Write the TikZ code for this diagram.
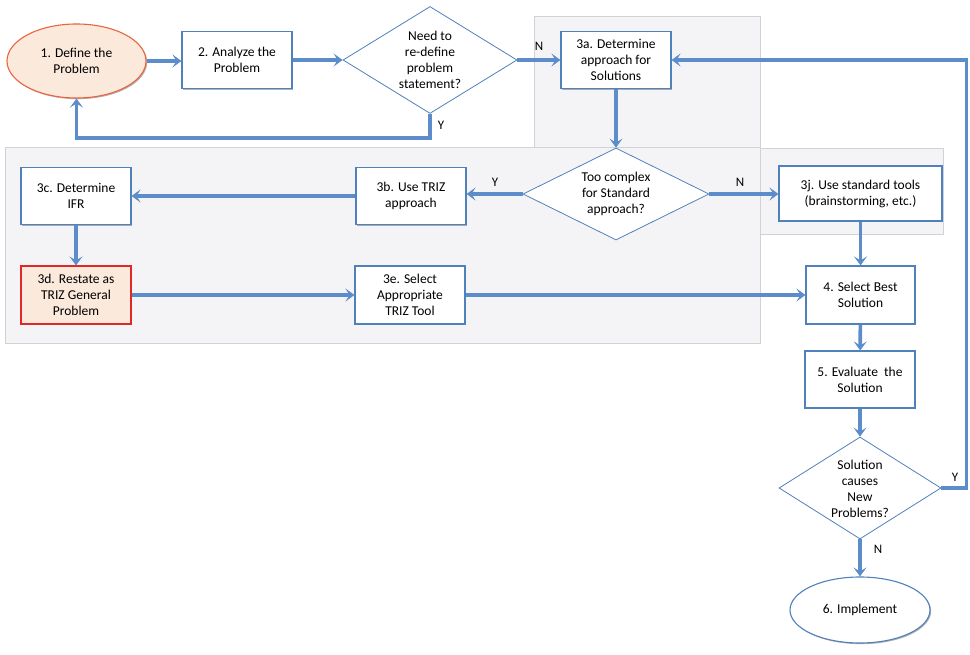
\documentclass[tikz,border=0pt]{standalone}
\usepackage{fontspec}
\setmainfont{Carlito}
\usetikzlibrary{shapes.geometric,arrows.meta,shadows}
\definecolor{flowblue}{RGB}{92,141,202}
\definecolor{boxblue}{RGB}{79,129,189}
\definecolor{panelgray}{RGB}{244,244,246}
\definecolor{panelline}{RGB}{210,210,212}
\definecolor{peach}{RGB}{251,233,219}
\definecolor{ellred}{RGB}{232,100,60}
\definecolor{boxred}{RGB}{224,40,40}
\tikzset{
  panel/.style={fill=panelgray,draw=panelline,line width=0.6pt,
    drop shadow={shadow xshift=1.2pt,shadow yshift=-1.2pt,fill=black,opacity=0.25}},
  box/.style={rectangle,draw=boxblue,line width=1.1pt,fill=white,align=center,
    minimum width=110pt,minimum height=57pt,inner sep=2pt,
    font=\fontsize{13.5}{16}\selectfont,
    drop shadow={shadow xshift=1.2pt,shadow yshift=-1.2pt,fill=black,opacity=0.3}},
  dia/.style={diamond,draw=boxblue,line width=0.8pt,fill=white,inner sep=0pt},
  dtext/.style={align=center,inner sep=0pt,font=\fontsize{13.5}{16}\selectfont},
  oval/.style={ellipse,line width=1.1pt,align=center,inner sep=0pt,
    font=\fontsize{13.5}{16}\selectfont,
    drop shadow={shadow xshift=1.2pt,shadow yshift=-1.2pt,fill=black,opacity=0.3}},
  flow/.style={draw=flowblue,line width=3.6pt,
    -{Stealth[length=9pt,width=13pt,inset=4pt]}},
  lbl/.style={font=\fontsize{13}{15}\selectfont,inner sep=0pt}
}
\begin{document}
\begin{tikzpicture}[x=1pt,y=-1pt]
\useasboundingbox (0,0) rectangle (970,655);
% background panels
\path[panel] (534,16) rectangle (760,147);
\path[panel] (760,148) rectangle (943,234);
\path[panel] (5,147) rectangle (760,343);

% nodes
\node[oval,draw=ellred,fill=peach,minimum width=139pt,minimum height=74pt] (n1) at (76.5,61) {1. Define the\\Problem};
\node[box] (n2) at (237,60) {2. Analyze the\\Problem};
\node[dia,minimum width=174pt,minimum height=107pt] (d1) at (430,60) {};
\node[dtext] (d1t) at (430,60) {Need to\\re-define\\problem\\statement?};
\node[box] (n3a) at (616,60) {3a. Determine\\approach for\\Solutions};
\node[dia,minimum width=186pt,minimum height=92pt] (d2) at (616,194) {};
\node[dtext] (d2t) at (616,194) {Too complex\\for Standard\\approach?};
\node[box] (n3b) at (411,196) {3b. Use TRIZ\\approach};
\node[box] (n3c) at (76,196) {3c. Determine\\IFR};
\node[box,draw=boxred,fill=peach,minimum height=58pt] (n3d) at (76,295) {3d. Restate as\\TRIZ General\\Problem};
\node[box,minimum height=58pt] (n3e) at (410,295) {3e. Select\\Appropriate\\TRIZ Tool};
\node[box,minimum width=163pt,minimum height=55pt] (n3j) at (860.5,193.5) {3j. Use standard tools\\(brainstorming, etc.)};
\node[box,minimum width=109pt,minimum height=58pt] (n4) at (860.5,295) {4. Select Best\\Solution};
\node[box] (n5) at (860,379.5) {5. Evaluate~ the\\Solution};
\node[dia,minimum width=162pt,minimum height=102pt] (d3) at (860,488) {};
\node[dtext] (d3t) at (860,489) {Solution\\causes\\New\\Problems?};
\node[oval,draw=boxblue,fill=white,minimum width=140pt,minimum height=66pt] (n6) at (860,610) {6. Implement};

% connectors
\draw[flow] (n1.east) -- (n2.west |- n1.east);
\draw[flow] (n2) -- (d1.west);
\draw[flow] (d1.south) -- ++(0,24) -| (n1.south);
\draw[flow] (d1.east) -- (n3a.west);
\draw[flow] (n3a) -- (d2.north);
\draw[flow] (d2.west) -- (d2.west -| n3b.east);
\draw[flow] (n3b) -- (n3c);
\draw[flow] (n3c) -- (n3d);
\draw[flow] (n3d) -- (n3e);
\draw[flow] (n3e) -- (n4);
\draw[flow] (d2.east) -- (d2.east -| n3j.west);
\draw[flow] (n3j) -- (n4);
\draw[flow] (n4) -- (n5);
\draw[flow] (n5) -- (d3.north);
\draw[flow] (d3.east) -- ++(25,0) |- (n3a.east);
\draw[flow] (d3.south) -- (n6.north);

% labels
\node[lbl] (ly1) at (441,125) {Y};
\node[lbl] (ln1) at (539,46) {N};
\node[lbl] (ly2) at (495,182) {Y};
\node[lbl] (ln2) at (740,182) {N};
\node[lbl] (ly3) at (955,477) {Y};
\node[lbl] (ln3) at (878,549) {N};
\end{tikzpicture}
\end{document}
